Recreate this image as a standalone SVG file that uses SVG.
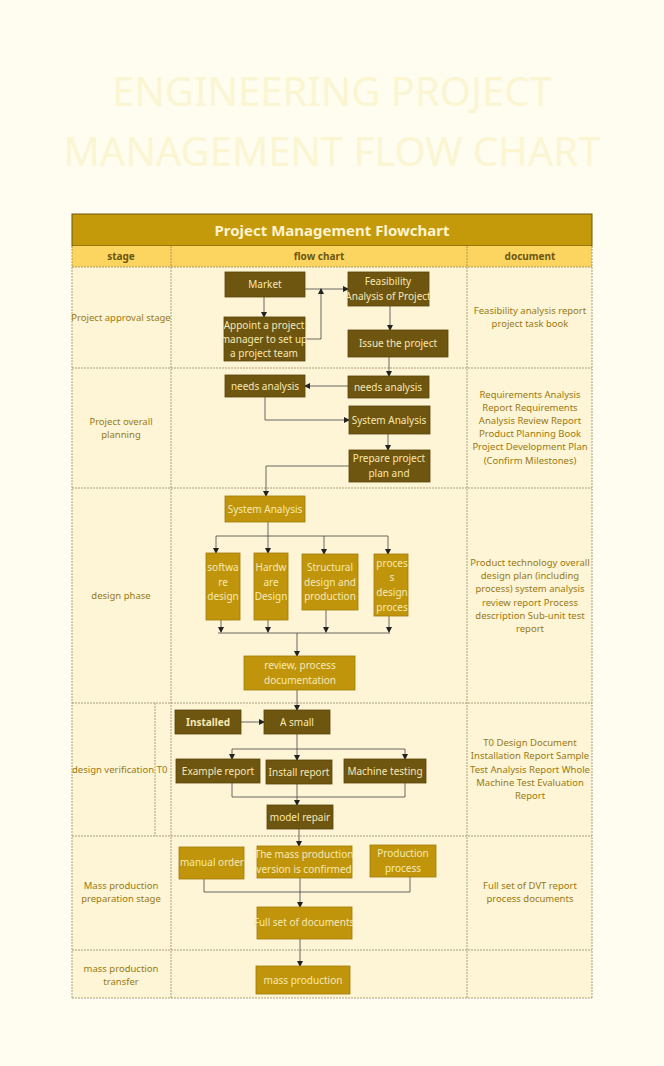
<svg xmlns="http://www.w3.org/2000/svg" width="664" height="1066" viewBox="0 0 664 1066">
<defs>
<marker id="ar" markerWidth="6" markerHeight="6" refX="5" refY="3" orient="auto" markerUnits="userSpaceOnUse"><path d="M0,0 L6,3 L0,6 z" fill="#222"/></marker>
<style>
text{font-family:"Noto Sans","Open Sans",sans-serif}
.d{fill:#6e5510;stroke:#5a450c;stroke-width:0.8}
.g{fill:#c0950b;stroke:#a07c08;stroke-width:0.8}
.t{fill:#f7e9b4;font-size:10px;text-anchor:middle}
.s{fill:#9a7a10;font-size:9.5px;text-anchor:middle}
.grid{stroke:#8a7a50;stroke-width:0.7;stroke-dasharray:2 1;fill:none}
.c{stroke:#444;stroke-width:0.8;fill:none}
.ca{stroke:#444;stroke-width:0.8;fill:none;marker-end:url(#ar)}
</style>
</defs>
<rect width="664" height="1066" fill="#fefdf0"/>
<g id="title" fill="#fbf5d2" font-size="40" text-anchor="middle">
<text x="332" y="106">ENGINEERING PROJECT</text>
<text x="332" y="166">MANAGEMENT FLOW CHART</text>
</g>
<g id="table">
<rect x="72" y="214" width="520" height="784" fill="#fef4d6"/>
<rect x="72" y="214" width="520" height="32" fill="#c49a0a" stroke="#6e5510"/>
<text x="332" y="236" fill="#fdf3d0" font-size="15" font-weight="bold" text-anchor="middle">Project Management Flowchart</text>
<rect x="72" y="246" width="520" height="21" fill="#fcd561"/>
<text x="121" y="260" fill="#6e5510" font-size="10" font-weight="bold" text-anchor="middle">stage</text>
<text x="319" y="260" fill="#6e5510" font-size="10" font-weight="bold" text-anchor="middle">flow chart</text>
<text x="530" y="260" fill="#6e5510" font-size="10" font-weight="bold" text-anchor="middle">document</text>
<path class="grid" d="M72,267H592M72,368H592M72,488H592M72,703H592M72,836H592M72,950H592M72,998H592M72,246V998M592,246V998M171,246V998M467,246V998M155,703V836"/>
</g>
<g id="stages">
<text class="s" x="121" y="321">Project approval stage</text>
<text class="s" x="121" y="425">Project overall</text><text class="s" x="121" y="438">planning</text>
<text class="s" x="121" y="599">design phase</text>
<text class="s" x="113" y="773">design verification</text><text class="s" x="162" y="773">T0</text>
<text class="s" x="121" y="889">Mass production</text><text class="s" x="121" y="902">preparation stage</text>
<text class="s" x="121" y="972">mass production</text><text class="s" x="121" y="985">transfer</text>
</g>
<g id="docs">
<text class="s" x="530" y="314">Feasibility analysis report</text><text class="s" x="530" y="327">project task book</text>
<text class="s" x="530" y="398">Requirements Analysis</text><text class="s" x="530" y="411">Report Requirements</text><text class="s" x="530" y="424">Analysis Review Report</text><text class="s" x="530" y="437">Product Planning Book</text><text class="s" x="530" y="450">Project Development Plan</text><text class="s" x="530" y="464">(Confirm Milestones)</text>
<text class="s" x="530" y="566">Product technology overall</text><text class="s" x="530" y="579">design plan (including</text><text class="s" x="530" y="592">process) system analysis</text><text class="s" x="530" y="606">review report Process</text><text class="s" x="530" y="619">description Sub-unit test</text><text class="s" x="530" y="632">report</text>
<text class="s" x="530" y="746">T0 Design Document</text><text class="s" x="530" y="759">Installation Report Sample</text><text class="s" x="530" y="773">Test Analysis Report Whole</text><text class="s" x="530" y="786">Machine Test Evaluation</text><text class="s" x="530" y="799">Report</text>
<text class="s" x="530" y="889">Full set of DVT report</text><text class="s" x="530" y="902">process documents</text>
</g>
<g id="connectors">
<path class="ca" d="M264,297V317"/>
<path class="ca" d="M305,289H348"/>
<path class="ca" d="M305,339H321V289"/>
<path class="ca" d="M390,306V330"/>
<path class="ca" d="M389,357V376"/>
<path class="ca" d="M348,386H305"/>
<path class="ca" d="M265,397V420H349"/>
<path class="ca" d="M388,434V450"/>
<path class="ca" d="M349,466H266V496"/>
<path class="c" d="M268,522V536M216,536H388"/>
<path class="ca" d="M216,536V553"/><path class="ca" d="M268,536V553"/><path class="ca" d="M324,536V554"/><path class="ca" d="M388,536V554"/>
<path class="ca" d="M221,620V632"/><path class="ca" d="M268,620V632"/><path class="ca" d="M326,610V632"/><path class="ca" d="M389,616V632"/>
<path class="c" d="M218,633H390"/>
<path class="ca" d="M297,633V656"/>
<path class="ca" d="M297,690V710"/>
<path class="ca" d="M241,722H264"/>
<path class="c" d="M297,734V749M232,749H405"/>
<path class="ca" d="M232,749V759"/><path class="ca" d="M297,749V760"/><path class="ca" d="M405,749V759"/>
<path class="c" d="M232,783V797H405V783"/>
<path class="ca" d="M297,784V805"/>
<path class="ca" d="M299,829V846"/>
<path class="c" d="M204,879V892H410V877"/>
<path class="ca" d="M300,878V907"/>
<path class="ca" d="M300,939V966"/>
</g>
<g id="n-market"><rect class="d" x="225" y="272" width="80" height="25"/><text class="t" x="265" y="288">Market</text></g>
<g id="n-feas"><rect class="d" x="348" y="272" width="81" height="34"/><text class="t" x="388" y="285">Feasibility</text><text class="t" x="388" y="300">Analysis of Project</text></g>
<g id="n-appoint"><rect class="d" x="224" y="317" width="81" height="44"/><text class="t" x="264" y="329">Appoint a project</text><text class="t" x="264" y="343">manager to set up</text><text class="t" x="264" y="357">a project team</text></g>
<g id="n-issue"><rect class="d" x="348" y="330" width="100" height="27"/><text class="t" x="398" y="347">Issue the project</text></g>
<g id="n-needs1"><rect class="d" x="225" y="375" width="80" height="22"/><text class="t" x="265" y="390">needs analysis</text></g>
<g id="n-needs2"><rect class="d" x="348" y="376" width="81" height="22"/><text class="t" x="388" y="391">needs analysis</text></g>
<g id="n-sys1"><rect class="d" x="349" y="406" width="81" height="28"/><text class="t" x="389" y="424">System Analysis</text></g>
<g id="n-prep"><rect class="d" x="349" y="450" width="81" height="32"/><text class="t" x="389" y="462">Prepare project</text><text class="t" x="389" y="477">plan and</text></g>
<g id="n-sys2"><rect class="g" x="225" y="496" width="80" height="26"/><text class="t" x="265" y="513">System Analysis</text></g>
<g id="n-soft"><rect class="g" x="206" y="553" width="34" height="67"/><text class="t" x="223" y="571">softwa</text><text class="t" x="223" y="586">re</text><text class="t" x="223" y="600">design</text></g>
<g id="n-hard"><rect class="g" x="254" y="553" width="34" height="67"/><text class="t" x="271" y="571">Hardw</text><text class="t" x="271" y="586">are</text><text class="t" x="271" y="600">Design</text></g>
<g id="n-struct"><rect class="g" x="302" y="554" width="56" height="56"/><text class="t" x="330" y="571">Structural</text><text class="t" x="330" y="586">design and</text><text class="t" x="330" y="600">production</text></g>
<g id="n-proc"><rect class="g" x="374" y="554" width="34" height="62"/><text class="t" x="392" y="567">proces</text><text class="t" x="392" y="581">s</text><text class="t" x="392" y="596">design</text><text class="t" x="392" y="611">proces</text></g>
<g id="n-review"><rect class="g" x="244" y="656" width="111" height="34"/><text class="t" x="300" y="669">review, process</text><text class="t" x="300" y="684">documentation</text></g>
<g id="n-installed"><rect class="d" x="175" y="710" width="66" height="24"/><text class="t" x="208" y="726" font-weight="bold">Installed</text></g>
<g id="n-small"><rect class="d" x="264" y="710" width="66" height="24"/><text class="t" x="297" y="726">A small</text></g>
<g id="n-example"><rect class="d" x="176" y="759" width="84" height="24"/><text class="t" x="218" y="775">Example report</text></g>
<g id="n-install"><rect class="d" x="266" y="760" width="66" height="24"/><text class="t" x="299" y="776">Install report</text></g>
<g id="n-machine"><rect class="d" x="344" y="759" width="82" height="24"/><text class="t" x="385" y="775">Machine testing</text></g>
<g id="n-repair"><rect class="d" x="267" y="805" width="66" height="24"/><text class="t" x="300" y="821">model repair</text></g>
<g id="n-manual"><rect class="g" x="179" y="847" width="65" height="32"/><text class="t" x="212" y="866">manual order</text></g>
<g id="n-confirm"><rect class="g" x="257" y="846" width="95" height="32"/><text class="t" x="304" y="858">The mass production</text><text class="t" x="304" y="873">version is confirmed</text></g>
<g id="n-prodproc"><rect class="g" x="370" y="845" width="66" height="32"/><text class="t" x="403" y="857">Production</text><text class="t" x="403" y="872">process</text></g>
<g id="n-fullset"><rect class="g" x="257" y="907" width="95" height="32"/><text class="t" x="304" y="926">Full set of documents</text></g>
<g id="n-mass"><rect class="g" x="256" y="966" width="94" height="28"/><text class="t" x="303" y="984">mass production</text></g>
</svg>
